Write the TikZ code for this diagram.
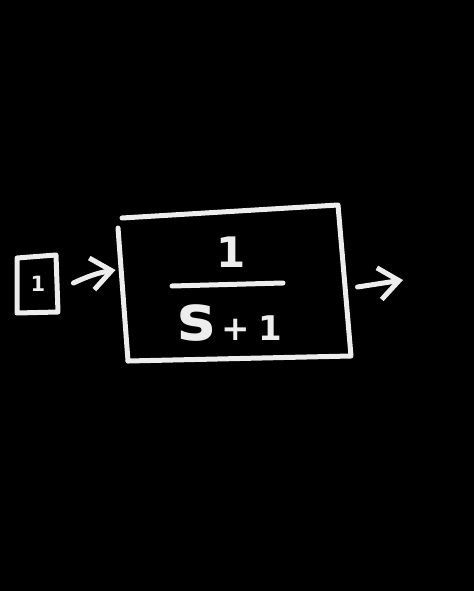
\documentclass[tikz,border=0pt]{standalone}
\usepackage{fontspec}
\setmainfont{DejaVu Sans}
\usetikzlibrary{arrows.meta}
\definecolor{ink}{HTML}{EDEDED}
\begin{document}
\begin{tikzpicture}[x=1pt,y=-1pt,line width=5pt,line cap=round,line join=round,
  stroke/.style={draw=ink},
  lbl/.style={text=ink,inner sep=0pt},
  flow/.style={draw=ink,-{Straight Barb[length=20pt,width=32pt,line width=5pt]}}]
\fill[black] (0,0) rectangle (474,591);
% input box
\node[lbl,minimum width=42pt,minimum height=56pt,font=\bfseries\fontsize{21}{21}\selectfont] (in) at (38,284) {1};
\draw[stroke] (17,258) -- (56,255) -- (58,312) -- (17,313) -- cycle;
% system box
\node[minimum width=226pt,minimum height=145pt,inner sep=0pt] (sys) at (235,283) {};
\draw[stroke] (122,218) -- (338,205) -- (351,356) -- (128,361);
\draw[stroke] (118,228) -- (128,361);
\node[lbl,font=\bfseries\fontsize{42}{42}\selectfont] (num) at (231,252) {1};
\coordinate (barL) at (172,286);
\coordinate (barR) at (283,283);
\draw[stroke] (barL) -- (barR);
\node[lbl,font=\bfseries\fontsize{34}{34}\selectfont,anchor=base] (den) at (230,340) {{\fontsize{64}{64}\selectfont s}\hspace{6pt}+\hspace{8pt}1};
% connectors
\draw[flow] ([xshift=12pt,yshift=1pt]in.east) to[bend left=8] ([xshift=-4pt,yshift=13pt]sys.west);
\coordinate (out) at (403,280);
\draw[flow] ([xshift=7pt,yshift=-4pt]sys.east) -- (out);
\end{tikzpicture}
\end{document}
